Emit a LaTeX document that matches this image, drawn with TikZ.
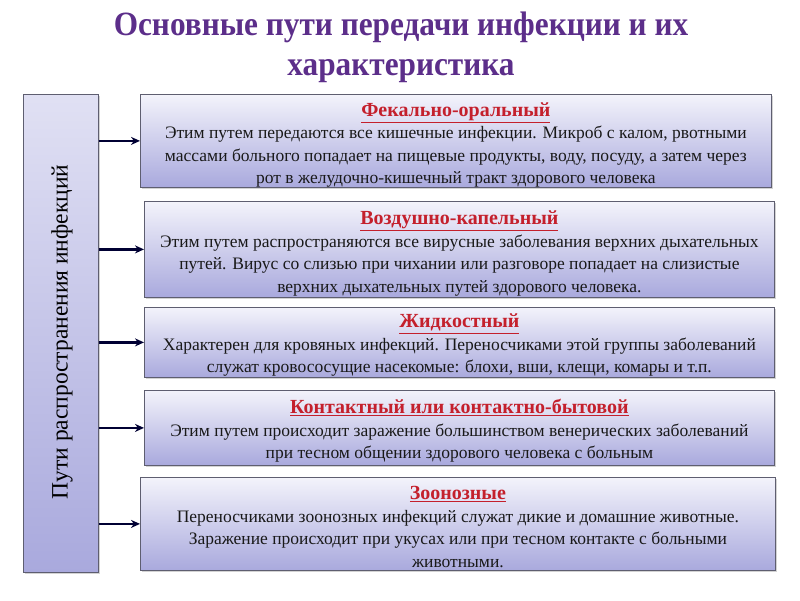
\documentclass[tikz,border=0pt]{standalone}
\usepackage{fontspec}
\setmainfont{Liberation Serif}
\usetikzlibrary{shadows,arrows.meta}

\definecolor{titlepurple}{HTML}{5C2E8A}
\definecolor{headred}{HTML}{C4202C}
\definecolor{boxtop}{HTML}{F3F3FB}
\definecolor{boxbottom}{HTML}{A9A9DD}
\definecolor{boxline}{HTML}{5E5E70}

\tikzset{
  pathbox/.style={draw=boxline, line width=0.8pt, top color=boxtop, bottom color=boxbottom,
    drop shadow={shadow xshift=2pt, shadow yshift=-2pt, opacity=0.35},
    anchor=north west, inner sep=0pt},
  routetext/.style={inner sep=0pt, align=center, text=black!90,
    font=\fontsize{17.5}{22.5}\selectfont},
  feed/.style={-{Stealth[length=9pt,width=8pt]}, line width=2.4pt, draw=black!80!blue},
}
\newcommand{\routehead}[1]{{\fontsize{20}{22.5}\selectfont\textcolor{headred}{\bfseries\underline{#1}}}}

\begin{document}
\begin{tikzpicture}[x=1pt,y=-1pt]
			%%%%% START %%%%%
			\useasboundingbox (0,0) rectangle (800,600);
			
			\node[font=\fontsize{34}{40}\selectfont\bfseries, text=titlepurple, align=center, xscale=0.92] (head) at (401,47)
				{Основные пути передачи инфекции и их\\характеристика};
			
			\node[pathbox, minimum width=75pt, minimum height=478pt, top color=boxtop!75!boxbottom] (ways) at (23,94) {};
			\node[rotate=90, font=\fontsize{23.5}{26}\selectfont] (waystext) at (62,332) {Пути распространения инфекций};
			
			%%%%% BOXES %%%%%
			\node[pathbox, minimum width=631pt, minimum height=93pt] (fecal) at (140,94) {};
			\node[pathbox, minimum width=630pt, minimum height=96pt] (air) at (144,201) {};
			\node[pathbox, minimum width=630pt, minimum height=70pt] (fluid) at (144,307) {};
			\node[pathbox, minimum width=630pt, minimum height=75pt] (contact) at (144,390) {};
			\node[pathbox, minimum width=635pt, minimum height=93pt] (zoo) at (140,477) {};
			
			%%%%% TEXTS %%%%%
			\node[routetext] (fecaltext) at ([yshift=-4pt]fecal.center)
				{\routehead{Фекально-оральный}\\
				Этим путем передаются все кишечные инфекции. Микроб с калом, рвотными\\
				массами больного попадает на пищевые продукты, воду, посуду, а затем через\\
				рот в желудочно-кишечный тракт здорового человека};
			
			\node[routetext] (airtext) at ([yshift=-4pt]air.center)
				{\routehead{Воздушно-капельный}\\
				Этим путем распространяются все вирусные заболевания верхних дыхательных\\
				путей. Вирус со слизью при чихании или разговоре попадает на слизистые\\
				верхних дыхательных путей здорового человека.};
			
			\node[routetext] (fluidtext) at ([yshift=-3pt]fluid.center)
				{\routehead{Жидкостный}\\
				Характерен для кровяных инфекций. Переносчиками этой группы заболеваний\\
				служат кровососущие насекомые: блохи, вши, клещи, комары и т.п.};
			
			\node[routetext] (contacttext) at ([yshift=-3pt]contact.center)
				{\routehead{Контактный или контактно-бытовой}\\
				Этим путем происходит заражение большинством венерических заболеваний\\
				при тесном общении здорового человека с больным};
			
			\node[routetext] (zootext) at ([yshift=-3pt]zoo.center)
				{\routehead{Зоонозные}\\
				Переносчиками зоонозных инфекций служат дикие и домашние животные.\\
				Заражение происходит при укусах или при тесном контакте с больными\\
				животными.};
			
			%%%%% ARROWS %%%%%
			\foreach \target in {fecal,air,fluid,contact,zoo}
				\draw[feed] (ways.east |- \target.west) -- (\target.west);
			
			%%%%% END %%%%%
\end{tikzpicture}
\end{document}
